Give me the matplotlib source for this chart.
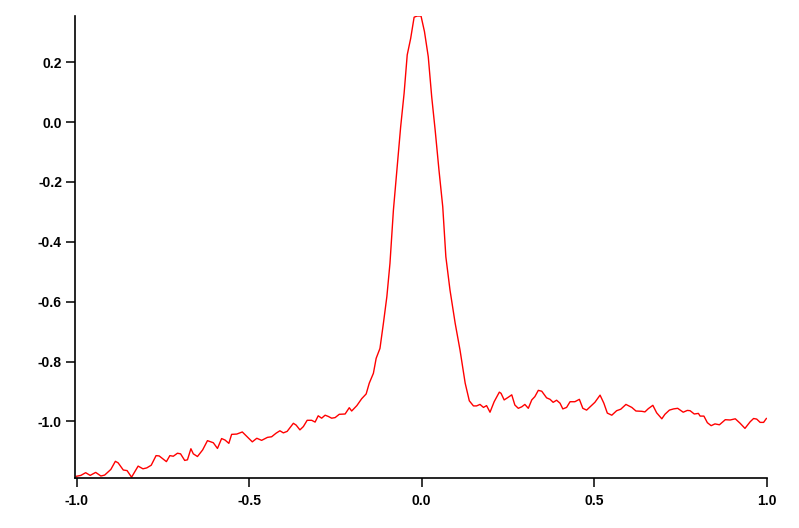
import matplotlib
matplotlib.use("Agg")
import matplotlib.pyplot as plt

x_vals = [
    -1.001, -0.988, -0.974, -0.961, -0.945, -0.930, -0.919, -0.901, -0.888, -0.880,
    -0.865, -0.854, -0.841, -0.822, -0.808, -0.797, -0.784, -0.770, -0.761, -0.740,
    -0.730, -0.720, -0.708, -0.699, -0.687, -0.679, -0.669,
    -0.662, -0.650, -0.635, -0.621, -0.604, -0.592, -0.580, -0.570, -0.559, -0.551,
    -0.536, -0.520, -0.506, -0.491, -0.478, -0.464, -0.447, -0.435, -0.422, -0.411,
    -0.401, -0.390, -0.372, -0.364,
    -0.353, -0.343, -0.332, -0.319, -0.309, -0.300, -0.290, -0.280, -0.271, -0.261,
    -0.251, -0.239, -0.222, -0.210, -0.203, -0.188, -0.174, -0.164,
    -0.161, -0.152, -0.140, -0.132, -0.121, -0.111, -0.101, -0.092, -0.082, -0.072,
    -0.061, -0.051, -0.042, -0.032, -0.022, -0.013, -0.002, 0.008, 0.019, 0.029,
    0.039, 0.050, 0.061, 0.070, 0.082, 0.097, 0.111,
    0.126, 0.138, 0.150, 0.159, 0.169, 0.179, 0.188, 0.198, 0.210, 0.225,
    0.230, 0.239, 0.251, 0.261, 0.270, 0.280, 0.290, 0.299, 0.309, 0.319,
    0.328, 0.338, 0.348, 0.362, 0.372, 0.381, 0.391, 0.401, 0.409, 0.420,
    0.430, 0.444, 0.457, 0.467, 0.478, 0.488, 0.502, 0.517,
    0.528, 0.538, 0.551, 0.565, 0.577, 0.592, 0.609, 0.621, 0.638, 0.647,
    0.657, 0.670, 0.681, 0.696, 0.705, 0.718, 0.730, 0.742, 0.758, 0.770,
    0.778, 0.790, 0.802, 0.807, 0.818, 0.828, 0.839, 0.850, 0.863, 0.880,
    0.894, 0.909, 0.923, 0.937, 0.952, 0.962, 0.971, 0.981, 0.991, 0.999,
]
y_vals = [
    -1.183, -1.180, -1.171, -1.180, -1.170, -1.182, -1.179, -1.160, -1.133, -1.138,
    -1.162, -1.164, -1.186, -1.149, -1.158, -1.155, -1.146, -1.114, -1.115, -1.134,
    -1.114, -1.116, -1.106, -1.108, -1.130, -1.128, -1.091,
    -1.108, -1.117, -1.095, -1.064, -1.071, -1.090, -1.057, -1.062, -1.073, -1.043,
    -1.042, -1.035, -1.051, -1.068, -1.056, -1.063, -1.053, -1.051, -1.039, -1.031,
    -1.038, -1.033, -1.006, -1.012,
    -1.028, -1.017, -0.996, -0.996, -1.002, -0.981, -0.989, -0.979, -0.983, -0.989,
    -0.987, -0.976, -0.975, -0.954, -0.965, -0.947, -0.924, -0.912,
    -0.908, -0.872, -0.839, -0.789, -0.756, -0.672, -0.583, -0.472, -0.294, -0.160,
    -0.016, 0.096, 0.224, 0.279, 0.350, 0.354, 0.354, 0.302, 0.218, 0.084,
    -0.027, -0.160, -0.283, -0.450, -0.561, -0.672, -0.761,
    -0.872, -0.931, -0.948, -0.948, -0.943, -0.953, -0.947, -0.969, -0.934, -0.902,
    -0.906, -0.928, -0.919, -0.911, -0.945, -0.956, -0.951, -0.943, -0.956, -0.928,
    -0.917, -0.896, -0.899, -0.921, -0.926, -0.936, -0.929, -0.939, -0.958, -0.953,
    -0.934, -0.934, -0.926, -0.956, -0.962, -0.951, -0.936, -0.912,
    -0.939, -0.972, -0.979, -0.964, -0.959, -0.943, -0.953, -0.965, -0.966, -0.968,
    -0.957, -0.946, -0.971, -0.991, -0.976, -0.962, -0.958, -0.956, -0.969, -0.963,
    -0.964, -0.975, -0.973, -0.982, -0.982, -1.004, -1.014, -1.008, -1.011, -0.994,
    -0.995, -0.991, -1.006, -1.023, -1.001, -0.990, -0.992, -1.003, -1.003, -0.990,
]
x_ticks = [-1.0, -0.5, 0.0, 0.5, 1.0]
x_ticklabels = ["-1.0", "-0.5", "0.0", "0.5", "1.0"]
y_ticks = [-1.0, -0.8, -0.6, -0.4, -0.2, 0.0, 0.2]
y_ticklabels = ["-1.0", "-0.8", "-0.6", "-0.4", "-0.2", "0.0", "0.2"]

plt.rcParams['font.family'] = ['Liberation Sans', 'DejaVu Sans']

W, H = 799, 528
fig = plt.figure(figsize=(W / 100, H / 100), dpi=100)
left, right, top, bottom = 74.5, 766.7, 16, 478
ax = fig.add_axes([left / W, (H - bottom) / H, (right - left) / W, (bottom - top) / H])

ax.plot(x_vals, y_vals, color=(1, 0, 0), lw=1.0)

ax.set_xlim(-1.0064, 1.0)
ax.set_ylim(-1.1887, 0.354)

ax.spines['top'].set_visible(False)
ax.spines['right'].set_visible(False)
for s in ('left', 'bottom'):
    ax.spines[s].set_linewidth(1.2)
    ax.spines[s].set_color('black')

ax.set_xticks(x_ticks)
ax.set_xticklabels(x_ticklabels)
ax.set_yticks(y_ticks)
ax.set_yticklabels(y_ticklabels)
ax.tick_params(axis='both', direction='out', length=6.5, width=1.1, colors='black',
               labelsize=10)
ax.tick_params(axis='x', pad=5)
ax.tick_params(axis='y', pad=2.5)
for lab in ax.get_xticklabels() + ax.get_yticklabels():
    lab.set_fontweight('bold')

fig.savefig("out.png", dpi=100)
